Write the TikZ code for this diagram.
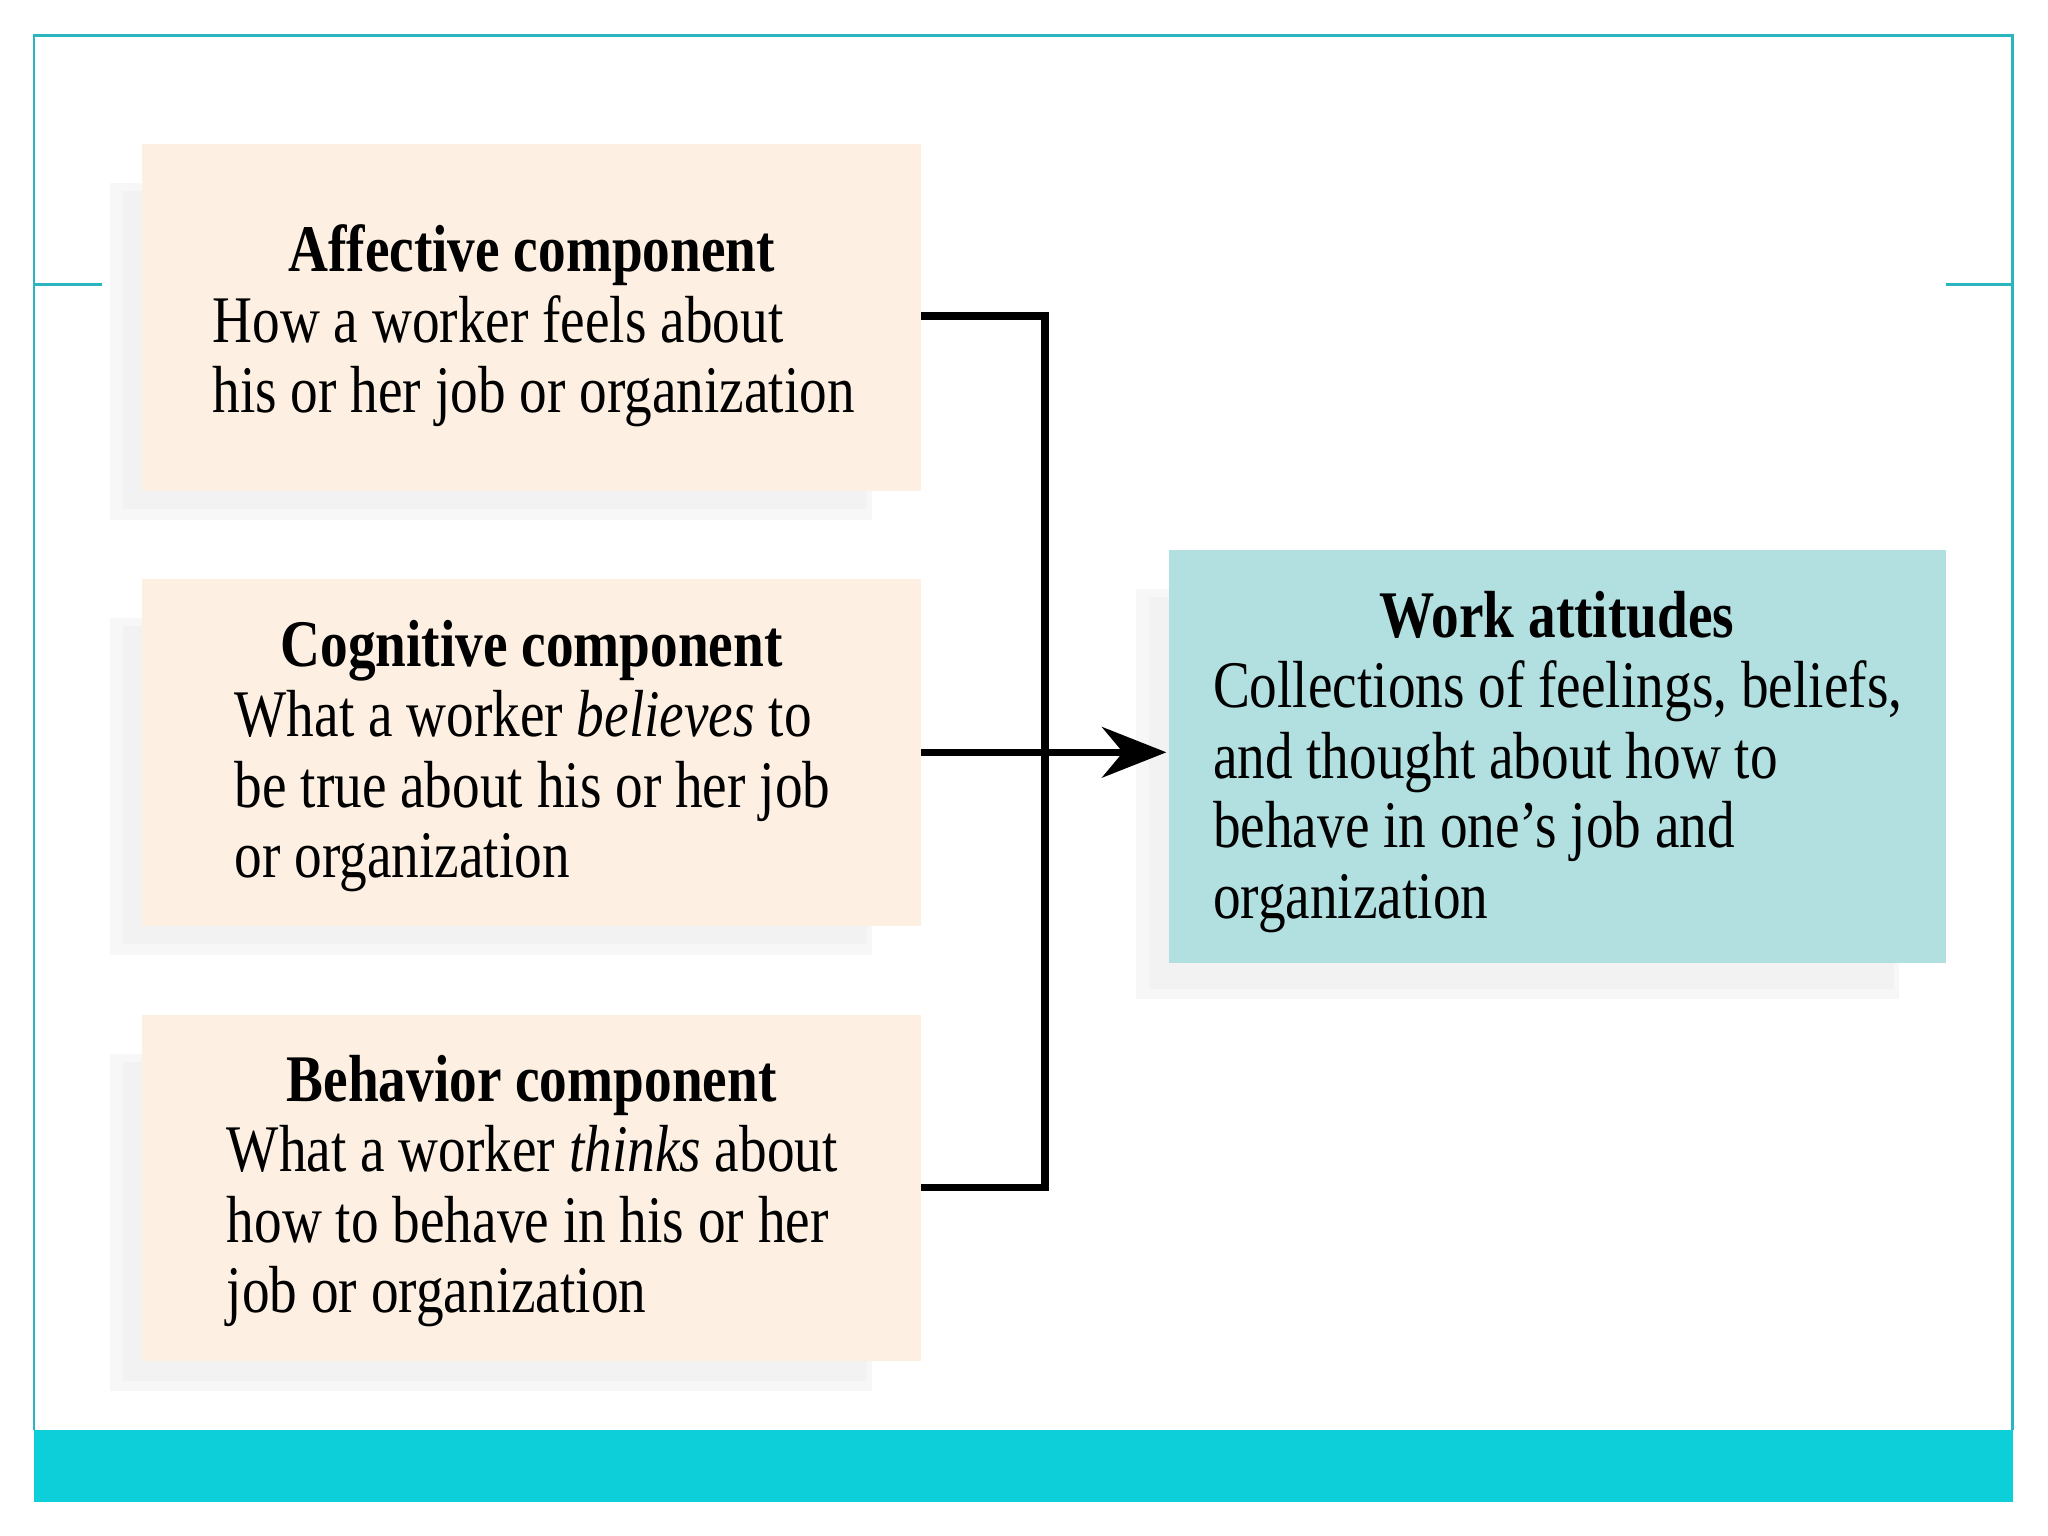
\documentclass[tikz,border=0pt]{standalone}
\usepackage{fontspec}
\setmainfont{Liberation Serif}[FakeStretch=0.83]
\usetikzlibrary{arrows.meta}
\definecolor{peach}{HTML}{FDF0E3}
\definecolor{aqua}{HTML}{B2E0E0}
\definecolor{teal}{HTML}{0CCFDA}
\definecolor{frame}{HTML}{2BB5BE}
\tikzset{
 txt/.style={anchor=base west,inner sep=0pt,font=\fontsize{14.5pt}{15pt}\selectfont},
 ttl/.style={anchor=base,inner sep=0pt,font=\fontsize{14.5pt}{15pt}\selectfont\bfseries},
 conn/.style={line width=1.6pt},
}
\begin{document}
\begin{tikzpicture}[x=0.01cm,y=-0.01cm]
\useasboundingbox (0,0) rectangle (1568,1176);
\fill[white] (0,0) rectangle (1568,1176);
\draw[frame,line width=0.6pt] (26,1095) -- (26,27) -- (1541,27) -- (1541,1095);
\draw[frame,line width=0.6pt] (26,218) -- (78,218) (1490,218) -- (1541,218);
\fill[teal] (26,1095) rectangle (1541,1150);
% shadows
\foreach \y in {110,443,777}{
 \fill[black!3] (84,\y+30) rectangle (668,\y+288);
 \fill[black!5] (94,\y+36) rectangle (664,\y+280);
}
\fill[black!3] (870,451) rectangle (1454,765);
\fill[black!5] (880,457) rectangle (1450,757);
% boxes
\fill[peach] (109,110) rectangle (705,376);
\fill[peach] (109,443) rectangle (705,709);
\fill[peach] (109,777) rectangle (705,1042);
\fill[aqua] (895,421) rectangle (1490,737);
\coordinate (A) at (705,242);
\coordinate (B) at (705,576);
\coordinate (C) at (705,909);
\coordinate (W) at (893,576);
\coordinate (J1) at (800,242);
\coordinate (J2) at (800,909);
\draw[conn] (A) -- (J1) -- (J2) -- (C);
\draw[conn,-{Stealth[length=14pt,width=11pt]}] (B) -- (W);
% texts
\node[ttl] (at) at (407,208) {Affective component};
\node[txt] (a1) at (162,262) {How a worker feels about};
\node[txt] (a2) at (162,316) {his or her job or organization};
\node[ttl] (bt) at (407,510) {Cognitive component};
\node[txt] (b1) at (179,564) {What a worker \textit{believes} to};
\node[txt] (b2) at (179,618) {be true about his or her job};
\node[txt] (b3) at (179,672) {or organization};
\node[ttl] (ct) at (407,843) {Behavior component};
\node[txt] (c1) at (173,897) {What a worker \textit{thinks} about};
\node[txt] (c2) at (173,951) {how to behave in his or her};
\node[txt] (c3) at (173,1005) {job or organization};
\node[ttl] (wt) at (1192,488) {Work attitudes};
\node[txt] (w1) at (928,542) {Collections of feelings, beliefs,};
\node[txt] (w2) at (928,596) {and thought about how to};
\node[txt] (w3) at (928,649) {behave in one’s job and};
\node[txt] (w4) at (928,703) {organization};
\end{tikzpicture}
\end{document}
